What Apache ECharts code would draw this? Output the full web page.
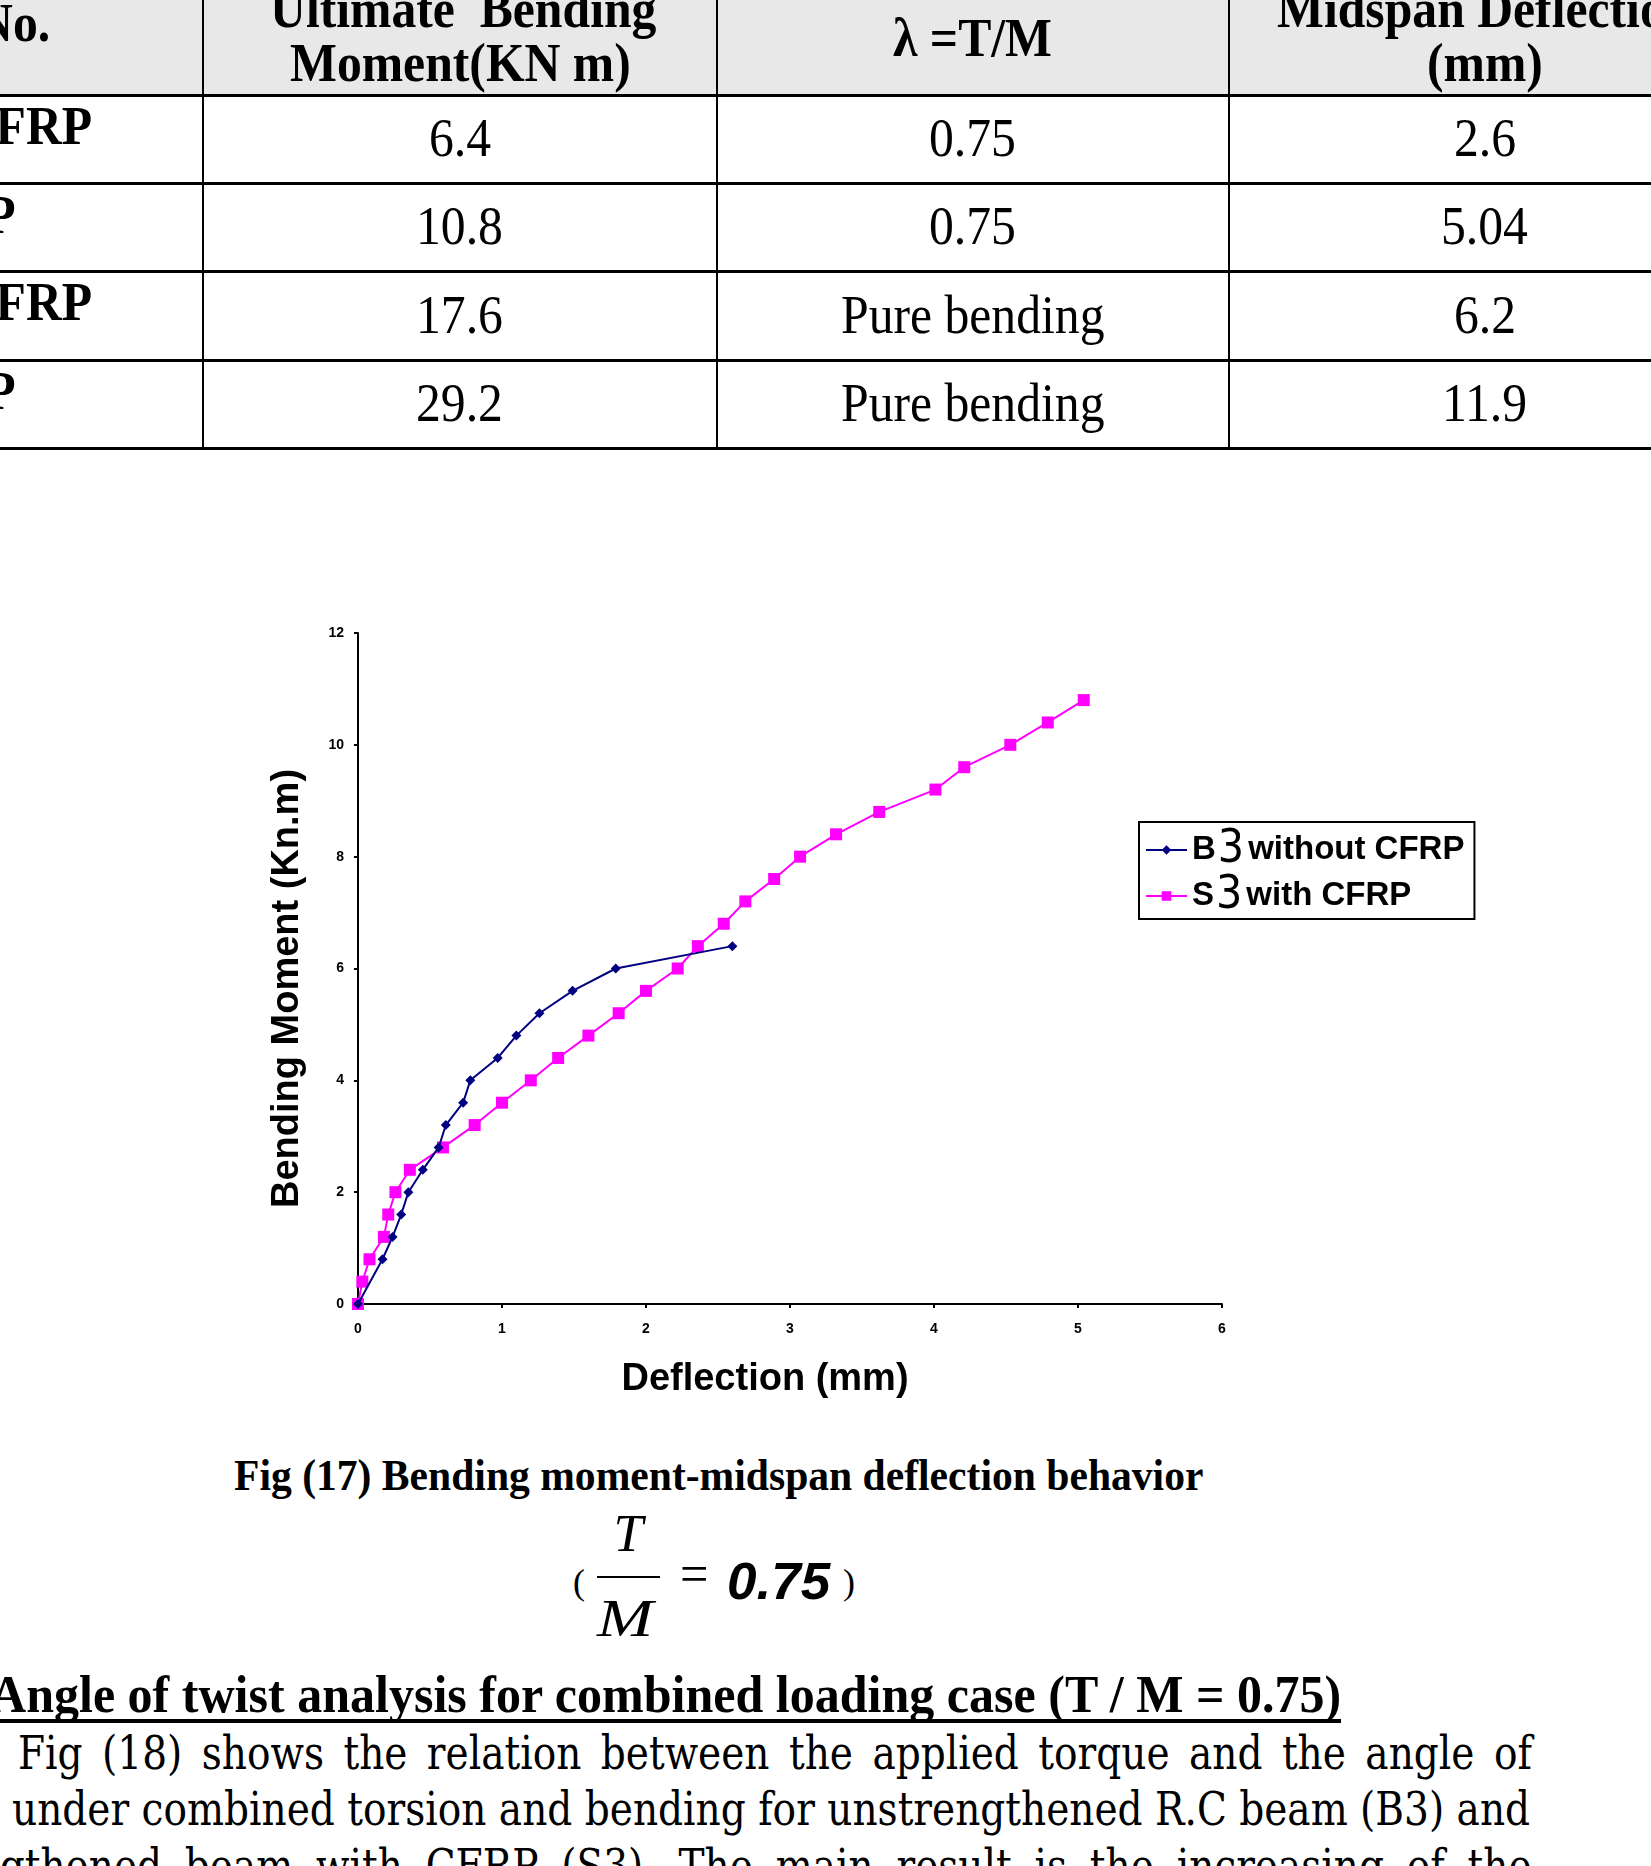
<!DOCTYPE html>
<html>
<head>
<meta charset="utf-8">
<script src="https://cdn.jsdelivr.net/npm/echarts@6/dist/echarts.min.js"></script>
<style>
  html, body { margin: 0; padding: 0; background: #fff; }
  #page { position: relative; width: 1651px; height: 1866px; overflow: hidden; background: #fff; }
  #chart { position: absolute; left: 0; top: 0; width: 1651px; height: 1866px; z-index: 2; }
  .t { position: absolute; white-space: pre; line-height: 1; color: #000; transform-origin: 0 0; }
  .hline { position: absolute; left: 0; width: 1651px; height: 3px; background: #000; }
  .vline { position: absolute; top: 0; width: 2px; height: 450px; background: #000; }
</style>
</head>
<body>
<div id="page">
  <div id="chart"></div>
</div>
<script>
// table (only the visible part of it)
const beams = ['B3 without CFRP', 'S3 with CFRP', 'B4 without CFRP', 'S4 with CFRP']
const ultimateMoment = ['6.4', '10.8', '17.6', '29.2']
const ratioTM = ['0.75', '0.75', 'Pure bending', 'Pure bending']
const midspanDefl = ['2.6', '5.04', '6.2', '11.9']

// Fig (17) curves
const b3Deflection = [0, 0.17, 0.24, 0.30, 0.35, 0.45, 0.56, 0.61, 0.73, 0.78, 0.97, 1.10, 1.26, 1.49, 1.79, 2.60]
const b3Moment = [0, 0.8, 1.2, 1.6, 2.0, 2.4, 2.8, 3.2, 3.6, 4.0, 4.4, 4.8, 5.2, 5.6, 6.0, 6.4]
const s3Deflection = [0, 0.03, 0.08, 0.18, 0.21, 0.26, 0.36, 0.59, 0.81, 1.00, 1.20, 1.39, 1.60, 1.81, 2.00,
  2.22, 2.36, 2.54, 2.69, 2.89, 3.07, 3.32, 3.62, 4.01, 4.21, 4.53, 4.79, 5.04]
const s3Moment = [0, 0.4, 0.8, 1.2, 1.6, 2.0, 2.4, 2.8, 3.2, 3.6, 4.0, 4.4, 4.8, 5.2, 5.6,
  6.0, 6.4, 6.8, 7.2, 7.6, 8.0, 8.4, 8.8, 9.2, 9.6, 10.0, 10.4, 10.8]
const seriesNames = ['B3 without CFRP', 'S3 with CFRP']

const page = document.getElementById('page')
const SERIF = "'Liberation Serif', 'Times New Roman', serif"
const BODY = "'DejaVu Serif', serif"
const SANS = "'Liberation Sans', Arial, sans-serif"

// put a text on the page, squeezed horizontally (sx) or fitted to a width
function place (text, o) {
    const el = document.createElement('div')
    el.className = 't'
    el.textContent = text
    el.style.font = o.font
    el.style.top = o.top + 'px'
    page.appendChild(el)
    const w = el.offsetWidth
    let sx = o.sx || 1
    if (o.width) sx = o.width / w
    if (o.span) {
        // justified line from span[0] to span[1]
        let x0 = o.span[0]
        if (o.cut) {
            const tmp = document.createElement('span')
            tmp.style.font = o.font
            tmp.style.whiteSpace = 'pre'
            tmp.textContent = o.cut
            page.appendChild(tmp)
            x0 -= tmp.offsetWidth * sx
            page.removeChild(tmp)
        }
        const k = (text.match(/ /g) || []).length
        const ws = ((o.span[1] - x0) / sx - w) / k
        el.style.wordSpacing = ws + 'px'
        el.style.left = x0 + 'px'
    } else {
        const sw = w * sx
        const anchor = o.anchor || 'left'
        const left = anchor === 'left' ? o.x : anchor === 'center' ? o.x - sw / 2 : o.x - sw
        el.style.left = left + 'px'
    }
    el.style.transform = 'scaleX(' + sx + ')'
    return sx
}

function box (cls, style) {
    const el = document.createElement('div')
    el.className = cls
    Object.assign(el.style, style)
    page.appendChild(el)
}

// ---- table ----
box('', { position: 'absolute', left: '0px', top: '0px', width: '1651px', height: '95px', background: '#e8e8e8' })
const rowLines = [95, 183, 271, 360, 448]
rowLines.forEach(y => box('hline', { top: (y - 1) + 'px' }))
const colLines = [203, 717, 1229]
colLines.forEach(x => box('vline', { left: (x - 1) + 'px' }))

const TSX = 0.92
const HB = 'bold 54px ' + SERIF
const HR = '54px ' + SERIF
place('No.', { font: HB, x: 51, anchor: 'right', top: -8, sx: TSX })
place('Ultimate  Bending', { font: HB, x: 463, anchor: 'center', top: -22, sx: TSX })
place('Moment(KN m)', { font: HB, x: 460, anchor: 'center', top: 32, sx: TSX })
place('λ =T/M', { font: HB, x: 973, anchor: 'center', top: 7, sx: TSX })
place('Midspan Deflection', { font: HB, x: 1485, anchor: 'center', top: -22, sx: TSX })
place('(mm)', { font: HB, x: 1485, anchor: 'center', top: 32, sx: TSX })

const rowCenters = [134, 222, 311, 399]
const labelEnds = [92, 16, 92, 16]
const labelCenters = [122, 211, 298, 387]
const colCenters = [460, 973, 1485]
beams.forEach((b, i) => {
    place(b, { font: HB, x: labelEnds[i], anchor: 'right', top: labelCenters[i] - 27, sx: TSX })
    const cells = [ultimateMoment[i], ratioTM[i], midspanDefl[i]]
    cells.forEach((c, j) => {
        place(c, { font: HR, x: colCenters[j], anchor: 'center', top: rowCenters[i] - 27, sx: TSX })
    })
})

// ---- caption and equation ----
place('Fig (17) Bending moment-midspan deflection behavior',
    { font: 'bold 44px ' + SERIF, x: 234, width: 969, top: 1450 })
place('(', { font: '36px ' + SERIF, x: 573, top: 1561 })
place('T', { font: 'italic 53px ' + SERIF, x: 628, anchor: 'center', top: 1503 })
box('', { position: 'absolute', left: '597px', top: '1576px', width: '63px', height: '2px', background: '#000' })
place('M', { font: 'italic 53px ' + SERIF, x: 625, anchor: 'center', width: 56, top: 1588 })
place('=', { font: '54px ' + SERIF, x: 680, width: 28, top: 1543 })
place('0.75', { font: 'bold italic 52px ' + SANS, x: 727, width: 103, top: 1551 })
place(')', { font: '36px ' + SERIF, x: 843, top: 1561 })

// ---- heading and body text ----
place('Angle of twist analysis for combined loading case (T / M = 0.75)',
    { font: 'bold 52px ' + SERIF, x: -10, width: 1351, top: 1665 })
box('', { position: 'absolute', left: '0px', top: '1719px', width: '1341px', height: '4px', background: '#000' })

const BF = '46px ' + BODY
const bsx = place('under combined torsion and bending for unstrengthened R.C beam (B3) and',
    { font: BF, x: 12, width: 1518, top: 1821 - 39 })
place('Fig (18) shows the relation between the applied torque and the angle of',
    { font: BF, span: [18, 1532], sx: bsx, top: 1765 - 39 })
place('strengthened beam with CFRP (S3). The main result is the increasing of the',
    { font: BF, span: [0, 1532], cut: 'stren', sx: bsx, top: 1878 - 39 })

// ---- chart ----
const chart = echarts.init(document.getElementById('chart'), null, { renderer: 'canvas' })

const axisCommon = {
    type: 'value',
    nameLocation: 'middle',
    axisLine: { show: true, lineStyle: { color: '#000', width: 2 } },
    axisTick: { show: true, length: 4, lineStyle: { color: '#000', width: 2 } },
    axisLabel: { color: '#000', fontSize: 14, fontWeight: 'bold', fontFamily: SANS },
    splitLine: { show: false }
}

chart.setOption({
    animation: false,
    grid: { left: 358, top: 633, width: 864, height: 671 },
    xAxis: Object.assign({}, axisCommon, {
        min: 0, max: 6, interval: 1,
        name: 'Deflection (mm)',
        nameGap: 57,
        nameTextStyle: { color: '#000', fontSize: 38, fontWeight: 'bold', fontFamily: SANS, padding: [0, 50, 0, 0] },
        axisLabel: Object.assign({}, axisCommon.axisLabel, { margin: 18 })
    }),
    yAxis: Object.assign({}, axisCommon, {
        min: 0, max: 12, interval: 2,
        name: 'Bending Moment (Kn.m)',
        nameGap: 51,
        nameTextStyle: { color: '#000', fontSize: 38, fontWeight: 'bold', fontFamily: SANS, padding: [0, 40, 0, 0] },
        axisLabel: Object.assign({}, axisCommon.axisLabel, { margin: 14 })
    }),
    legend: {
        orient: 'vertical',
        left: 1139,
        top: 822,
        padding: [5, 10, 0, 6],
        itemGap: 0,
        itemWidth: 41,
        itemHeight: 12,
        borderColor: '#000',
        borderWidth: 2,
        backgroundColor: '#fff',
        data: seriesNames,
        formatter: name => {
            const first = name.charAt(0)
            const rest = name.slice(2).trim()
            return '{a|' + first + '}{n|3}{a|' + rest + '}'
        },
        textStyle: {
            rich: {
                a: { fontSize: 33, fontWeight: 'bold', fontFamily: SANS, color: '#000', lineHeight: 40 },
                n: { fontSize: 46, fontFamily: "'DejaVu Sans Condensed', " + SANS, color: '#000', lineHeight: 40, padding: [0, 4, 0, 2] }
            }
        }
    },
    series: [
        {
            name: seriesNames[0],
            type: 'line',
            data: b3Deflection.map((x, i) => [x, b3Moment[i]]),
            symbol: 'diamond',
            symbolSize: 10,
            color: '#000080',
            lineStyle: { width: 2, color: '#000080' },
            itemStyle: { color: '#000080' },
            z: 3
        },
        {
            name: seriesNames[1],
            type: 'line',
            data: s3Deflection.map((x, i) => [x, s3Moment[i]]),
            symbol: 'rect',
            symbolSize: 12,
            color: '#ff00ff',
            lineStyle: { width: 2, color: '#ff00ff' },
            itemStyle: { color: '#ff00ff' },
            z: 2
        }
    ]
})
</script>
</body>
</html>
